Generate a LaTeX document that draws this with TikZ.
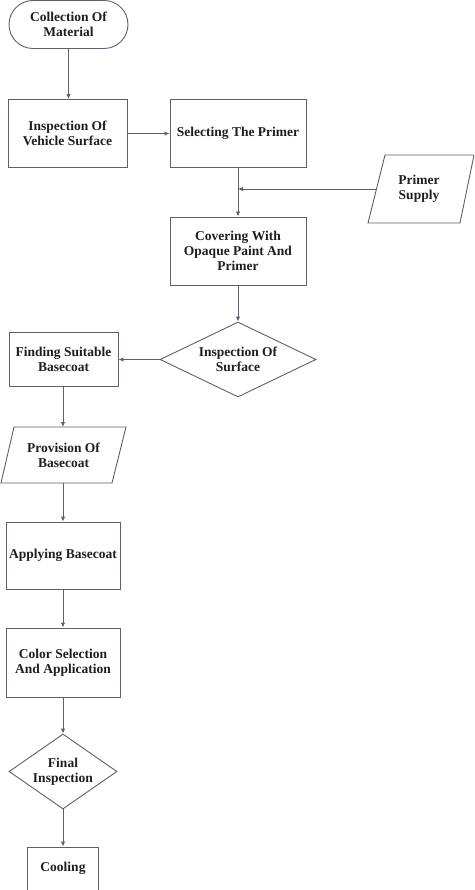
\documentclass[tikz,border=0pt]{standalone}
\usepackage{fontspec}
\setmainfont{Liberation Serif}
\usetikzlibrary{shapes.geometric,arrows.meta}
\definecolor{linec}{RGB}{95,95,105}
\definecolor{textc}{RGB}{30,30,30}
\tikzset{
  box/.style={draw=linec, line width=0.9pt, rectangle, inner sep=0pt},
  dia/.style={draw=linec, line width=0.9pt, diamond, inner sep=0pt},
  lbl/.style={text=textc, font=\fontsize{13.5}{15}\selectfont\bfseries, align=center, inner sep=0pt},
  conn/.style={draw=linec, line width=0.9pt, -{Latex[length=5pt,width=4.5pt]}},
  shape line/.style={draw=linec, line width=0.9pt}
}
\begin{document}
\begin{tikzpicture}[x=1pt,y=-1pt]
\useasboundingbox (0,0) rectangle (474,890);
\clip (0,0) rectangle (474,890);
% terminal
\node[box, rounded corners=24pt, minimum width=119pt, minimum height=48pt] (term) at (68.5,24.5) {};
\node[lbl] at (term) {Collection Of\\Material};
% boxes
\node[box, minimum width=119pt, minimum height=68pt] (insp) at (67.5,133.5) {};
\node[lbl] at (insp) {Inspection Of\\Vehicle Surface};
\node[box, minimum width=136pt, minimum height=68pt] (sel) at (238,133.5) {};
\node[lbl] at (sel) {Selecting The Primer};
\node[box, minimum width=136pt, minimum height=68pt] (cov) at (238,251) {};
\node[lbl] at (cov) {Covering With\\Opaque Paint And\\Primer};
% primer supply parallelogram
\draw[shape line] (385,155) -- (474,155) -- (460,223) -- (368,223) -- cycle;
\coordinate (primL) at (376.5,189);
\node[lbl] (prim) at (419,189) {Primer\\Supply};
% diamond 1
\node[dia, minimum width=156pt, minimum height=75pt] (d1) at (238,359.5) {};
\node[lbl] at (d1) {Inspection Of\\Surface};
% finding
\node[box, minimum width=109pt, minimum height=54pt] (find) at (63.5,359) {};
\node[lbl] at (find) {Finding Suitable\\Basecoat};
% provision parallelogram
\draw[shape line] (14,427) -- (126,427) -- (112,483) -- (1,483) -- cycle;
\coordinate (provT) at (63,427);
\coordinate (provB) at (63,483);
\node[lbl] (prov) at (63.5,455) {Provision Of\\Basecoat};
% applying
\node[box, minimum width=114pt, minimum height=67pt] (app) at (63,555.5) {};
\node[lbl] at (app) {Applying Basecoat};
% color
\node[box, minimum width=114pt, minimum height=69pt] (col) at (63,662.5) {};
\node[lbl] at (col) {Color Selection\\And Application};
% final diamond
\node[dia, minimum width=108pt, minimum height=75pt] (d2) at (63,771.5) {};
\node[lbl] at (d2) {Final\\Inspection};
% cooling
\node[box, minimum width=71pt, minimum height=56pt] (cool) at (63,875) {};
\node[lbl] at (63,868) {Cooling};
% connectors
\draw[conn] (term.south) -- (insp.north -| term.south);
\draw[conn] (insp.east) -- (sel.west);
\draw[conn] (sel.south) -- (cov.north);
\draw[conn] (primL) -- (sel.south |- primL);
\draw[conn] (cov.south) -- (d1.north);
\draw[conn] (d1.west) -- (find.east |- d1.west);
\draw[conn] (find.south -| provT) -- (provT);
\draw[conn] (provB) -- (app.north);
\draw[conn] (app.south) -- (col.north);
\draw[conn] (col.south) -- (d2.north);
\draw[conn] (d2.south) -- (cool.north);
\end{tikzpicture}
\end{document}
